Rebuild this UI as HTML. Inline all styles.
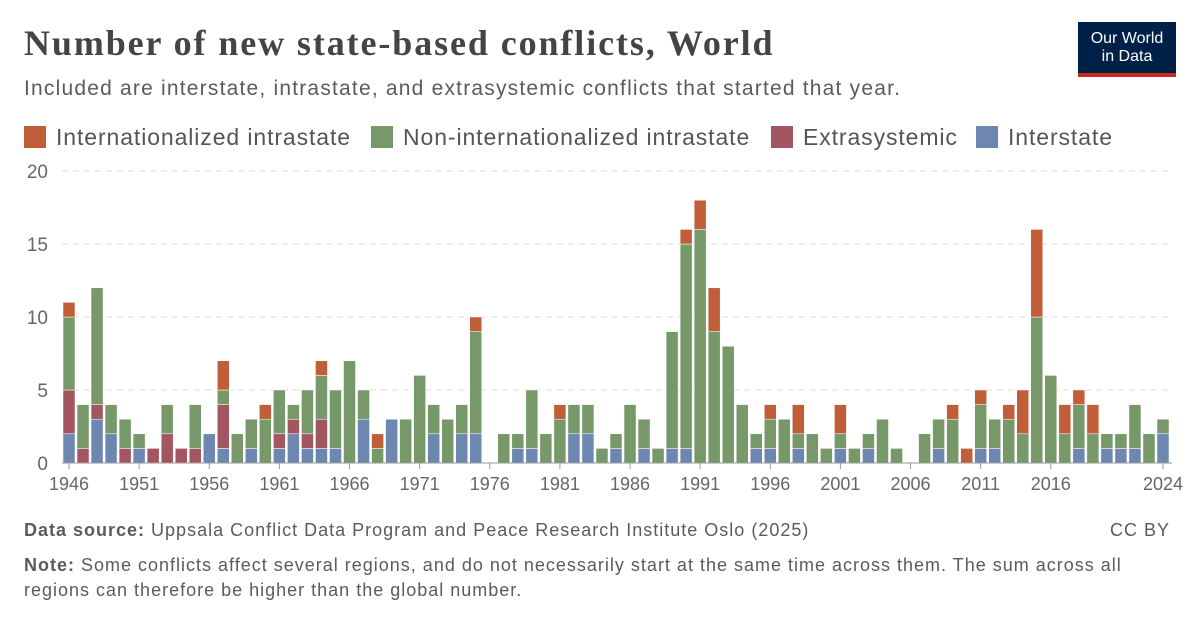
<!DOCTYPE html>
<html><head><meta charset="utf-8"><style>
body{margin:0;background:#fff;font-family:"Liberation Sans",sans-serif;}
.wrap{position:relative;width:1200px;height:627px;overflow:hidden}
.t{position:absolute;white-space:nowrap}
</style></head><body><div class="wrap">
<div class="t" style="left:24px;top:22px;font-family:'Liberation Serif',serif;font-weight:bold;font-size:36px;letter-spacing:1.9px;color:#444">Number of new state-based conflicts, World</div>
<div class="t" style="left:24px;top:77px;font-size:21px;letter-spacing:1.2px;color:#5b5b5b">Included are interstate, intrastate, and extrasystemic conflicts that started that year.</div>
<div style="position:absolute;left:1078px;top:22px;width:98px;height:55px;background:#002147;border-bottom:4px solid #ce261e;box-sizing:border-box;color:#fff;font-size:16px;line-height:18px;text-align:center;padding-top:8px">Our World<br>in Data</div>
<svg id="c" width="1200" height="627" style="position:absolute;left:0;top:0"></svg>
<div class="t" style="left:24px;top:520px;font-size:18px;letter-spacing:1px;color:#5b5b5b"><b>Data source:</b> Uppsala Conflict Data Program and Peace Research Institute Oslo (2025)</div>
<div class="t" style="right:30px;top:520px;font-size:18px;letter-spacing:1px;color:#5b5b5b">CC BY</div>
<div class="t" style="left:24px;top:553px;font-size:18px;letter-spacing:1px;color:#5b5b5b;line-height:25px"><b>Note:</b> Some conflicts affect several regions, and do not necessarily start at the same time across them. The sum across all<br>regions can therefore be higher than the global number.</div>
<script>
const years=[];for(let y=1946;y<=2024;y++)years.push(y);
const interstate=[2,0,3,2,0,1,0,0,0,0, 2,1,0,1,0,1,2,1,1,1, 0,3,0,3,0,0,2,0,2,2, 0,0,1,1,0,0,2,2,0,1, 0,1,0,1,1,0,0,0,0,1, 1,0,1,0,0,1,0,1,0,0, 0,0,1,0,0,1,1,0,0,0, 0,0,1,0,1,1,1,0,2];
const extrasystemic=[3,1,1,0,1,0,1,2,1,1, 0,3,0,0,0,1,1,1,2,0, 0,0,0,0,0,0,0,0,0,0, 0,0,0,0,0,0,0,0,0,0, 0,0,0,0,0,0,0,0,0,0, 0,0,0,0,0,0,0,0,0,0, 0,0,0,0,0,0,0,0,0,0, 0,0,0,0,0,0,0,0,0];
const nonintl=[5,3,8,2,2,1,0,2,0,3, 0,1,2,2,3,3,1,3,3,4, 7,2,1,0,3,6,2,3,2,7, 0,2,1,4,2,3,2,2,1,1, 4,2,1,8,14,16,9,8,4,1, 2,3,1,2,1,1,1,1,3,1, 0,2,2,3,0,3,2,3,2,10, 6,2,3,2,1,1,3,2,1];
const intl=[1,0,0,0,0,0,0,0,0,0, 0,2,0,0,1,0,0,0,1,0, 0,0,1,0,0,0,0,0,0,1, 0,0,0,0,0,1,0,0,0,0, 0,0,0,0,1,2,3,0,0,0, 1,0,2,0,0,2,0,0,0,0, 0,0,0,1,1,1,0,1,3,6, 0,2,1,2,0,0,0,0,0];
const yTicks=[0,5,10,15,20];
const xTicks=[1946,1951,1956,1961,1966,1971,1976,1981,1986,1991,1996,2001,2006,2011,2016,2024];
const series=[["Interstate",interstate,"#6d87b0"],["Extrasystemic",extrasystemic,"#a2565f"],["Non-internationalized intrastate",nonintl,"#77996a"],["Internationalized intrastate",intl,"#c15e3a"]];
const NS="http://www.w3.org/2000/svg",svg=document.getElementById('c');
const x=y=>69+(y-1946)*(1163-69)/78, yv=v=>463-v*(463-171)/20;
function mk(t,a){const e=document.createElementNS(NS,t);for(const k in a)e.setAttribute(k,a[k]);svg.appendChild(e);return e;}
yTicks.forEach(v=>{
 if(v>0){const g=mk('line',{x1:62,x2:1172,y1:yv(v),y2:yv(v),stroke:'#ddd','stroke-dasharray':'6,5'});
 
 }
 const t=mk('text',{x:48,y:yv(v)+7,'text-anchor':'end','font-size':19,fill:'#666','font-family':'Liberation Sans'});t.textContent=v;
 
 
});
years.forEach((yr,i)=>{let acc=0;series.forEach(s=>{const v=s[1][i];if(v>0){const r=mk('rect',{x:x(yr)-6,y:yv(acc+v),width:12,height:yv(acc)-yv(acc+v),fill:s[2],stroke:'#fff','stroke-width':0.5});
 
 }acc+=v;});});
const ax=mk('line',{x1:62,x2:1172,y1:463,y2:463,stroke:'#999'});


xTicks.forEach(yr=>{mk('line',{x1:x(yr),x2:x(yr),y1:463,y2:469,stroke:'#999'});
 const t=mk('text',{x:x(yr),y:490,'text-anchor':'middle','font-size':18,fill:'#666','font-family':'Liberation Sans'});t.textContent=yr;
 
 });
const leg=[["Internationalized intrastate","#c15e3a",24],["Non-internationalized intrastate","#77996a",371],["Extrasystemic","#a2565f",771],["Interstate","#6d87b0",976]];
leg.forEach(l=>{const r=mk('rect',{x:l[2],y:126,width:22,height:22,fill:l[1]});
 
 
 const t=mk('text',{x:l[2]+32,y:145,'font-size':23,'letter-spacing':0.9,fill:'#555','font-family':'Liberation Sans'});t.textContent=l[0];
 
 });
</script></div></body></html>
